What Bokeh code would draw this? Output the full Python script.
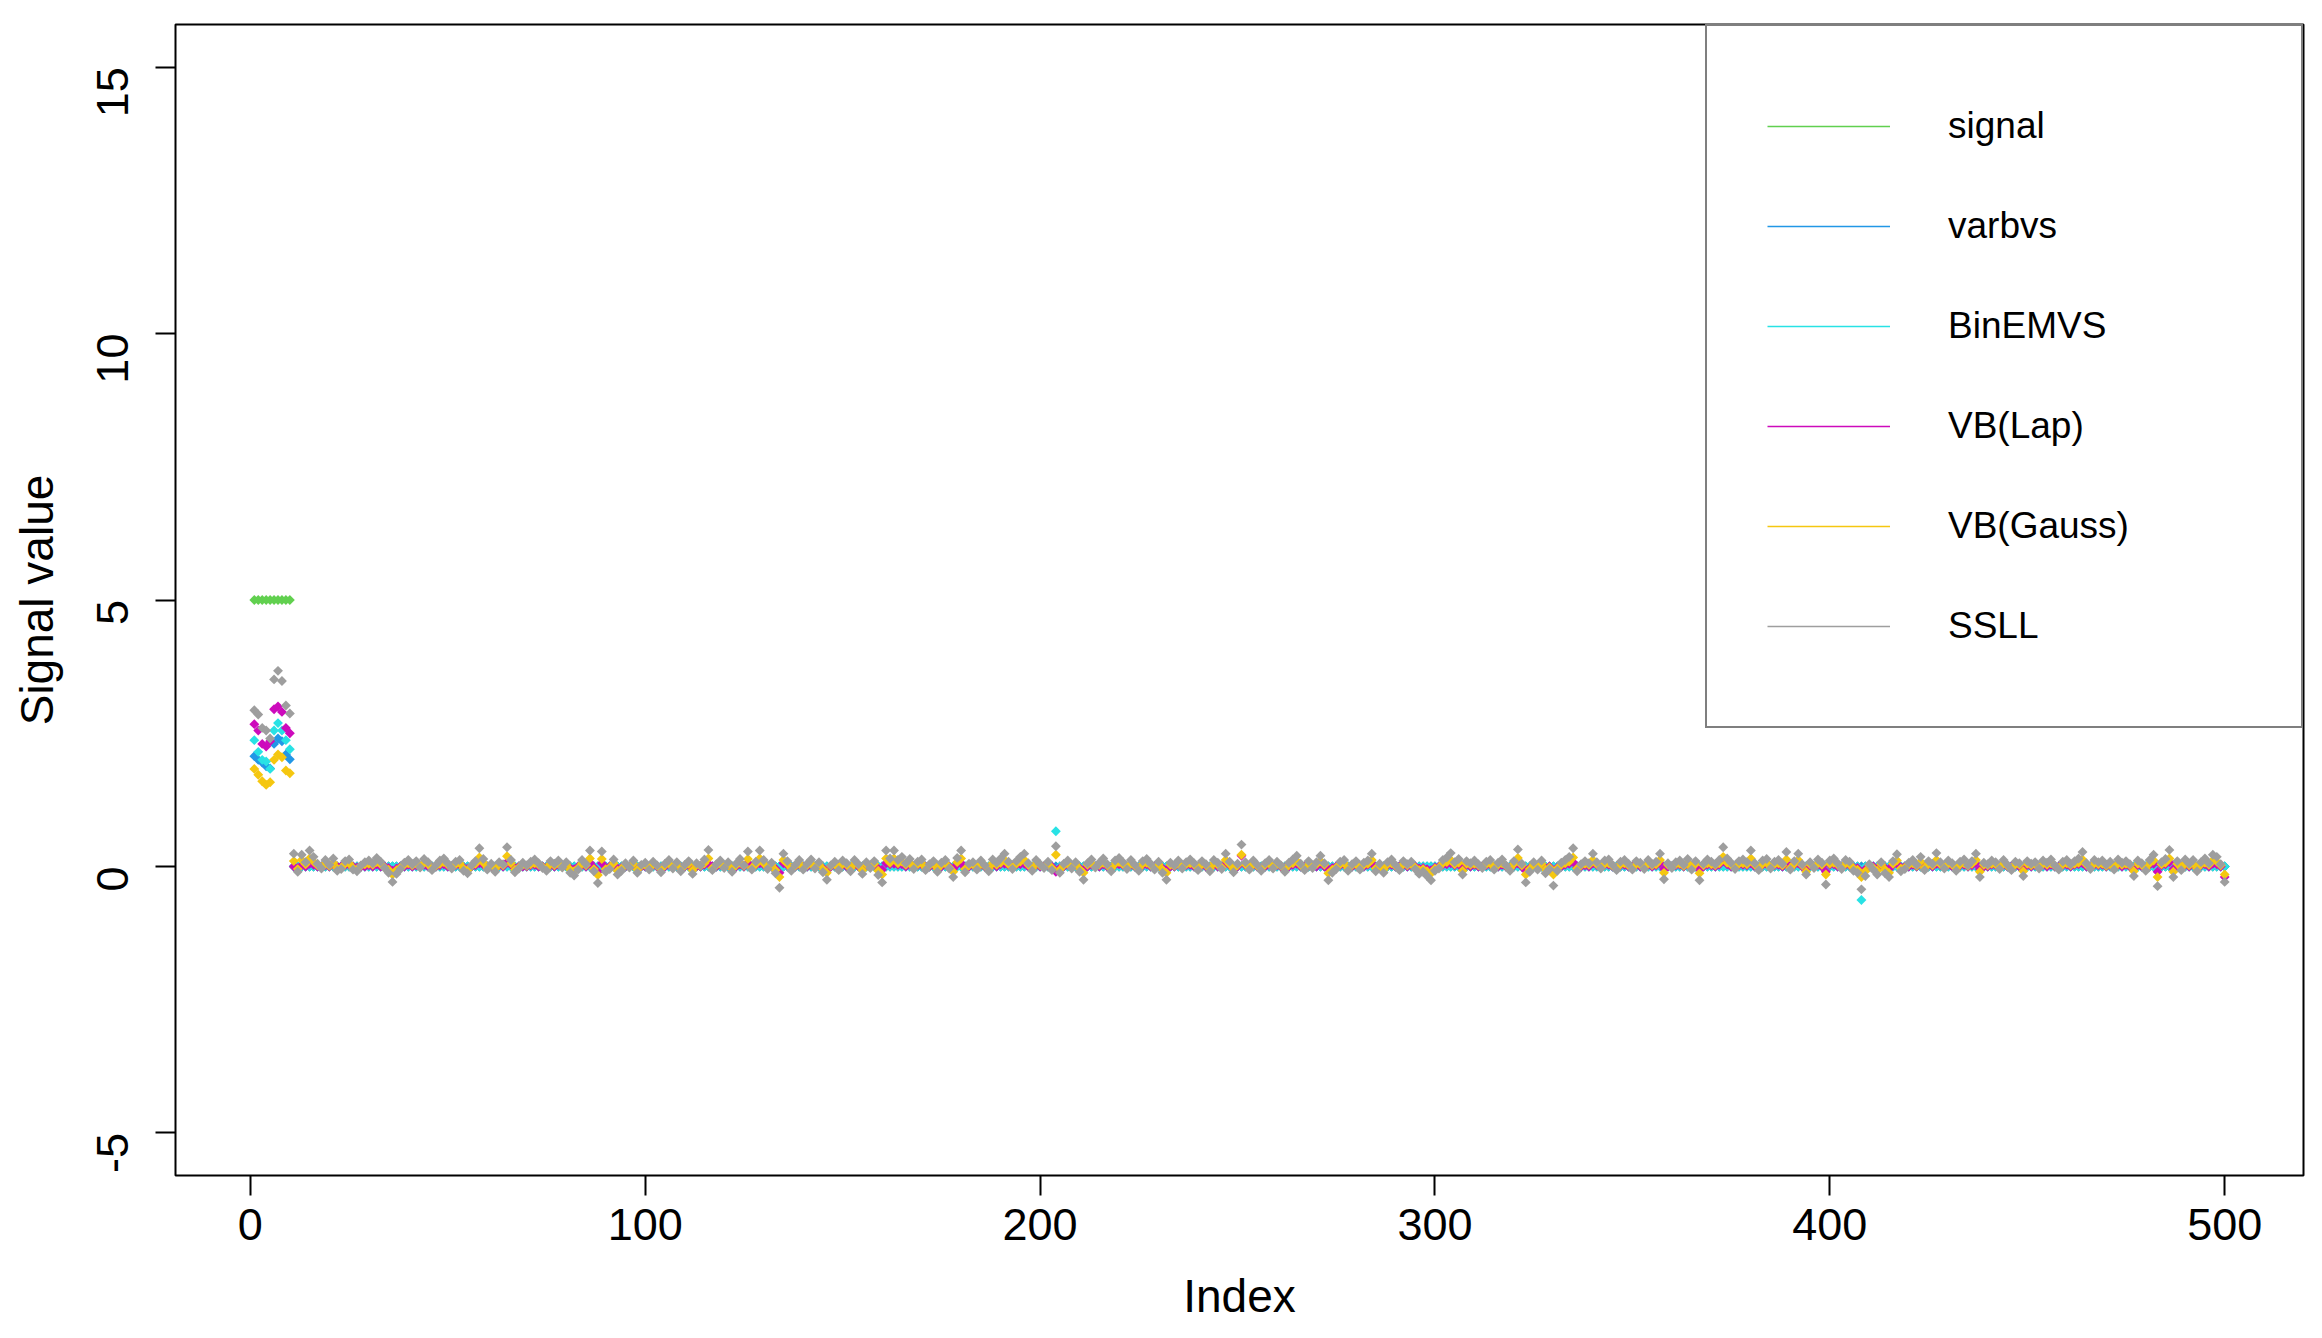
import math
from bokeh.plotting import figure
from bokeh.models import Range1d, FixedTicker, Legend, LegendItem, PrintfTickFormatter
from bokeh.embed import file_html
from bokeh.resources import INLINE

# Index 1..500 (first 10 are the true signals)
index = list(range(1, 501))

signal = [
    5, 5, 5, 5, 5, 5, 5, 5, 5, 5,
    0, 0, 0, 0, 0, 0, 0, 0, 0, 0, 0, 0, 0, 0, 0, 0, 0, 0, 0, 0,
    0, 0, 0, 0, 0, 0, 0, 0, 0, 0, 0, 0, 0, 0, 0, 0, 0, 0, 0, 0,
    0, 0, 0, 0, 0, 0, 0, 0, 0, 0, 0, 0, 0, 0, 0, 0, 0, 0, 0, 0,
    0, 0, 0, 0, 0, 0, 0, 0, 0, 0, 0, 0, 0, 0, 0, 0, 0, 0, 0, 0,
    0, 0, 0, 0, 0, 0, 0, 0, 0, 0, 0, 0, 0, 0, 0, 0, 0, 0, 0, 0,
    0, 0, 0, 0, 0, 0, 0, 0, 0, 0, 0, 0, 0, 0, 0, 0, 0, 0, 0, 0,
    0, 0, 0, 0, 0, 0, 0, 0, 0, 0, 0, 0, 0, 0, 0, 0, 0, 0, 0, 0,
    0, 0, 0, 0, 0, 0, 0, 0, 0, 0, 0, 0, 0, 0, 0, 0, 0, 0, 0, 0,
    0, 0, 0, 0, 0, 0, 0, 0, 0, 0, 0, 0, 0, 0, 0, 0, 0, 0, 0, 0,
    0, 0, 0, 0, 0, 0, 0, 0, 0, 0, 0, 0, 0, 0, 0, 0, 0, 0, 0, 0,
    0, 0, 0, 0, 0, 0, 0, 0, 0, 0, 0, 0, 0, 0, 0, 0, 0, 0, 0, 0,
    0, 0, 0, 0, 0, 0, 0, 0, 0, 0, 0, 0, 0, 0, 0, 0, 0, 0, 0, 0,
    0, 0, 0, 0, 0, 0, 0, 0, 0, 0, 0, 0, 0, 0, 0, 0, 0, 0, 0, 0,
    0, 0, 0, 0, 0, 0, 0, 0, 0, 0, 0, 0, 0, 0, 0, 0, 0, 0, 0, 0,
    0, 0, 0, 0, 0, 0, 0, 0, 0, 0, 0, 0, 0, 0, 0, 0, 0, 0, 0, 0,
    0, 0, 0, 0, 0, 0, 0, 0, 0, 0, 0, 0, 0, 0, 0, 0, 0, 0, 0, 0,
    0, 0, 0, 0, 0, 0, 0, 0, 0, 0, 0, 0, 0, 0, 0, 0, 0, 0, 0, 0,
    0, 0, 0, 0, 0, 0, 0, 0, 0, 0, 0, 0, 0, 0, 0, 0, 0, 0, 0, 0,
    0, 0, 0, 0, 0, 0, 0, 0, 0, 0, 0, 0, 0, 0, 0, 0, 0, 0, 0, 0,
    0, 0, 0, 0, 0, 0, 0, 0, 0, 0, 0, 0, 0, 0, 0, 0, 0, 0, 0, 0,
    0, 0, 0, 0, 0, 0, 0, 0, 0, 0, 0, 0, 0, 0, 0, 0, 0, 0, 0, 0,
    0, 0, 0, 0, 0, 0, 0, 0, 0, 0, 0, 0, 0, 0, 0, 0, 0, 0, 0, 0,
    0, 0, 0, 0, 0, 0, 0, 0, 0, 0, 0, 0, 0, 0, 0, 0, 0, 0, 0, 0,
    0, 0, 0, 0, 0, 0, 0, 0, 0, 0, 0, 0, 0, 0, 0, 0, 0, 0, 0, 0,
    0, 0, 0, 0, 0, 0, 0, 0, 0, 0,
]

varbvs = [
    2.07, 2.00, 1.95, 1.88, 1.84, 2.30, 2.40, 2.35, 2.10, 2.01,
    0, 0, 0, 0, 0, 0, 0, 0, 0, 0, 0, 0, 0, 0, 0, 0, 0, 0, 0, 0,
    0, 0, 0, 0, 0, 0, 0, 0, 0, 0, 0, 0, 0, 0, 0, 0, 0, 0, 0, 0,
    0, 0, 0, 0, 0, 0, 0, 0, 0, 0, 0, 0, 0, 0, 0, 0, 0, 0, 0, 0,
    0, 0, 0, 0, 0, 0, 0, 0, 0, 0, 0, 0, 0, 0, 0, 0, 0, 0, 0, 0,
    0, 0, 0, 0, 0, 0, 0, 0, 0, 0, 0, 0, 0, 0, 0, 0, 0, 0, 0, 0,
    0, 0, 0, 0, 0, 0, 0, 0, 0, 0, 0, 0, 0, 0, 0, 0, 0, 0, 0, 0,
    0, 0, 0, 0, 0, 0, 0, 0, 0, 0, 0, 0, 0, 0, 0, 0, 0, 0, 0, 0,
    0, 0, 0, 0, 0, 0, 0, 0, 0, 0, 0, 0, 0, 0, 0, 0, 0, 0, 0, 0,
    0, 0, 0, 0, 0, 0, 0, 0, 0, 0, 0, 0, 0, 0, 0, 0, 0, 0, 0, 0,
    0, 0, 0, 0, 0, 0, 0, 0, 0, 0, 0, 0, 0, 0, 0, 0, 0, 0, 0, 0,
    0, 0, 0, 0, 0, 0, 0, 0, 0, 0, 0, 0, 0, 0, 0, 0, 0, 0, 0, 0,
    0, 0, 0, 0, 0, 0, 0, 0, 0, 0, 0, 0, 0, 0, 0, 0, 0, 0, 0, 0,
    0, 0, 0, 0, 0, 0, 0, 0, 0, 0, 0, 0, 0, 0, 0, 0, 0, 0, 0, 0,
    0, 0, 0, 0, 0, 0, 0, 0, 0, 0, 0, 0, 0, 0, 0, 0, 0, 0, 0, 0,
    0, 0, 0, 0, 0, 0, 0, 0, 0, 0, 0, 0, 0, 0, 0, 0, 0, 0, 0, 0,
    0, 0, 0, 0, 0, 0, 0, 0, 0, 0, 0, 0, 0, 0, 0, 0, 0, 0, 0, 0,
    0, 0, 0, 0, 0, 0, 0, 0, 0, 0, 0, 0, 0, 0, 0, 0, 0, 0, 0, 0,
    0, 0, 0, 0, 0, 0, 0, 0, 0, 0, 0, 0, 0, 0, 0, 0, 0, 0, 0, 0,
    0, 0, 0, 0, 0, 0, 0, 0, 0, 0, 0, 0, 0, 0, 0, 0, 0, 0, 0, 0,
    0, 0, 0, 0, 0, 0, 0, 0, 0, 0, 0, 0, 0, 0, 0, 0, 0, 0, 0, 0,
    0, 0, 0, 0, 0, 0, 0, 0, 0, 0, 0, 0, 0, 0, 0, 0, 0, 0, 0, 0,
    0, 0, 0, 0, 0, 0, 0, 0, 0, 0, 0, 0, 0, 0, 0, 0, 0, 0, 0, 0,
    0, 0, 0, 0, 0, 0, 0, 0, 0, 0, 0, 0, 0, 0, 0, 0, 0, 0, 0, 0,
    0, 0, 0, 0, 0, 0, 0, 0, 0, 0, 0, 0, 0, 0, 0, 0, 0, 0, 0, 0,
    0, 0, 0, 0, 0, 0, 0, 0, 0, 0,
]

# rows of ten: 11-20, 21-30, ...
binemvs = [
    2.37, 2.15, 2.00, 1.97, 1.83, 2.55, 2.69, 2.55, 2.37, 2.20,
    0, 0, 0, 0, 0, 0, 0, 0, 0, 0,
    0, 0, 0, 0, 0, 0, 0, 0, 0, 0,
    0, 0, 0, 0, 0, 0, 0, 0, 0, 0,
    0, 0, 0, 0, 0, 0, 0, 0, 0, 0,
    0, 0, 0, 0, 0, 0, 0, 0, 0, 0,
    0, 0, 0, 0, 0, 0, 0, 0, 0, 0,
    0, 0, 0, 0, 0, 0, 0, 0, 0, 0,
    0, 0, 0, 0, 0, 0, 0, 0, 0, 0,
    0, 0, 0, 0, 0, 0, 0, 0, 0, 0,
    0, 0, 0, 0, 0, 0, 0, 0, 0, 0,
    0, 0, 0, 0, 0, 0, 0, 0, 0, 0,
    0, 0, 0, 0, 0, 0, 0, 0, 0, 0,
    0, 0, 0, 0, 0, 0, 0, 0, 0, 0,
    0, 0, 0, 0, 0, 0, 0, 0, 0, 0,
    0, 0, 0, 0, 0, 0, 0, 0, 0, 0,
    0, 0, 0, 0, 0, 0, 0, 0, 0, 0,
    0, 0, 0, 0, 0, 0, 0, 0, 0, 0,
    0, 0, 0, 0, 0, 0, 0, 0, 0, 0,
    0, 0, 0, 0, 0, 0, 0, 0, 0, 0,
    0, 0, 0, 0.66, 0, 0, 0, 0, 0, 0,
    0, 0, 0, 0, 0, 0, 0, 0, 0, 0,
    0, 0, 0, 0, 0, 0, 0, 0, 0, 0,
    0, 0, 0, 0, 0, 0, 0, 0, 0, 0,
    0, 0, 0, 0, 0, 0, 0, 0, 0, 0,
    0, 0, 0, 0, 0, 0, 0, 0, 0, 0,
    0, 0, 0, 0, 0, 0, 0, 0, 0, 0,
    0, 0, 0, 0, 0, 0, 0, 0, 0, 0,
    0, 0, 0, 0, 0, 0, 0, 0, 0, 0,
    0, 0, 0, 0, 0, 0, 0, 0, 0, 0,
    0, 0, 0, 0, 0, 0, 0, 0, 0, 0,
    0, 0, 0, 0, 0, 0, 0, 0, 0, 0,
    0, 0, 0, 0, 0, 0, 0, 0, 0, 0,
    0, 0, 0, 0, 0, 0, 0, 0, 0, 0,
    0, 0, 0, 0, 0, 0, 0, 0, 0, 0,
    0, 0, 0, 0, 0, 0, 0, 0, 0, 0,
    0, 0, 0, 0, 0, 0, 0, 0, 0, 0,
    0, 0, 0, 0, 0, 0, 0, 0, 0, 0,
    0, 0, 0, 0, 0, 0, 0, 0, 0, 0,
    0, 0, 0, 0, 0, 0, 0, 0, 0, 0,
    0, 0, 0, 0, 0, 0, 0, -0.63, 0, 0,
    0, 0, 0, 0, 0, 0, 0, 0, 0, 0,
    0, 0, 0, 0, 0, 0, 0, 0, 0, 0,
    0, 0, 0, 0, 0, 0, 0, 0, 0, 0,
    0, 0, 0, 0, 0, 0, 0, 0, 0, 0,
    0, 0, 0, 0, 0, 0, 0, 0, 0, 0,
    0, 0, 0, 0, 0, 0, 0, 0, 0, 0,
    0, 0, 0, 0, 0, 0, 0, 0, 0, 0,
    0, 0, 0, 0, 0, 0, 0, 0, 0, 0,
    0, 0, 0, 0, 0, 0, 0, 0, 0, 0,
]

vb_lap = [
    2.67, 2.55, 2.30, 2.25, 2.35, 2.95, 3.00, 2.90, 2.60, 2.50,
    0, -0.03, 0.02, 0, 0.05, 0.03, 0, 0, 0.02, 0,
    0.03, 0, 0, 0.02, 0.03, 0, -0.02, 0, 0, 0.02,
    0, 0.04, 0, 0, -0.03, -0.08, -0.04, 0, 0, 0.03,
    0, 0.02, 0, 0.03, 0, -0.02, 0, 0.02, 0.04, 0,
    0, 0.02, 0.03, -0.02, -0.04, 0, 0.02, 0.06, 0.03, 0,
    0, -0.03, 0.02, 0, 0.08, 0.03, -0.03, 0, 0, 0,
    0.02, 0.03, 0, 0, -0.02, 0.02, 0, 0.03, 0, 0.02,
    -0.03, -0.05, 0, 0.03, 0, 0.07, -0.02, -0.10, 0.06, -0.03,
    0, 0.03, -0.04, -0.02, 0, 0, 0.02, -0.03, 0, 0,
    0, 0.02, 0, -0.03, 0, 0.03, 0, 0.02, -0.02, 0,
    0.02, -0.04, 0, 0, 0.03, 0.05, 0, 0, 0.03, 0,
    0.02, -0.03, 0, 0.04, 0, 0.06, 0, 0.02, 0.06, 0.03,
    0, 0, -0.04, -0.12, 0.06, 0.02, -0.02, 0, 0.03, 0,
    0, 0.03, 0, 0.02, -0.03, -0.07, 0, 0.02, 0, 0.03,
    0, -0.02, 0.03, 0, -0.04, 0.02, 0, 0.03, -0.04, -0.06,
    0.06, 0.04, 0.05, 0.03, 0.04, 0, 0.03, 0, 0.02, 0.03,
    0, 0, 0.02, -0.03, 0, 0.03, 0, -0.05, 0.04, 0.06,
    -0.03, 0, 0.02, 0, 0.03, 0, -0.02, 0.03, 0, 0.04,
    0.05, 0.02, 0, 0.03, 0.04, 0.05, 0, -0.02, 0.03, 0,
    0, 0.02, 0, -0.10, -0.03, 0, 0.03, 0, 0.02, -0.03,
    -0.06, 0, 0.03, 0, 0, 0.04, 0, -0.02, 0.03, 0.04,
    0.02, 0, 0.03, 0, -0.02, 0.02, 0.04, 0, 0, 0.02,
    -0.03, -0.06, 0, 0, 0.03, 0, 0.02, 0.03, 0, 0,
    0.03, 0, -0.02, 0.03, 0, 0, 0.06, 0.02, -0.03, 0,
    0.20, 0.02, 0, 0.03, 0, -0.02, 0, 0.03, 0, 0.02,
    0, -0.03, 0, 0.03, 0.05, 0, 0, 0.02, 0, 0,
    0.05, 0, -0.05, -0.03, 0, 0.02, 0.03, -0.02, 0, 0.03,
    0, 0, 0.03, 0.06, -0.02, 0, -0.03, 0.02, 0.03, 0,
    0, 0.03, 0, 0.02, 0, -0.04, -0.03, -0.05, -0.07, -0.02,
    0, 0.03, 0.04, 0.06, 0.02, 0.04, -0.04, 0.03, 0, 0.03,
    0, 0, 0.02, 0.03, 0, 0, 0.03, 0, -0.02, 0.02,
    0.06, 0, -0.08, -0.03, 0.02, 0, 0.03, -0.03, 0, -0.10,
    -0.02, 0, 0.03, 0.05, 0.08, -0.02, 0, 0.02, 0, 0.06,
    0.02, 0, 0.03, 0.03, 0, -0.02, 0.02, 0.03, 0, 0,
    0.03, 0, 0, 0.03, 0, 0.02, 0.06, -0.05, 0, 0,
    0.02, 0.03, 0, 0.04, 0, 0.03, -0.06, 0, 0.03, 0.02,
    0, 0.03, 0.10, 0.04, 0, 0, 0.03, 0.03, 0.02, 0.06,
    0, -0.02, 0.03, 0.04, 0, 0.02, 0.03, 0, 0.06, 0,
    0.03, 0.06, 0, -0.04, 0.02, 0, 0.03, 0, -0.10, 0.03,
    0.04, 0, 0, 0.03, 0.02, -0.02, -0.03, -0.12, -0.05, 0,
    0, -0.04, 0.02, -0.03, -0.05, 0.03, 0.05, -0.02, 0, 0,
    0.03, 0, 0.04, 0, 0.03, 0, 0.05, 0.02, 0, 0.03,
    0, -0.02, 0.02, 0.03, 0, 0.02, 0.06, -0.05, 0, 0,
    0.03, 0.02, 0, 0.03, 0, 0, 0.02, 0, -0.04, 0.03,
    0, 0.02, 0, 0.03, 0, 0.03, 0, 0, 0.02, 0.03,
    0, 0.03, 0.04, 0.06, 0, 0, 0.03, 0.02, 0.03, 0,
    0.02, 0, 0.03, 0, 0.03, 0, -0.04, 0.03, 0, -0.02,
    0.03, 0.05, -0.10, 0.02, 0.04, 0.08, -0.05, 0.03, 0, 0.03,
    0, 0.03, -0.02, 0.02, 0.04, 0, 0.05, 0.04, 0, -0.20,
]

vb_gauss = [
    1.83, 1.72, 1.60, 1.53, 1.58, 2.00, 2.10, 2.05, 1.80, 1.75,
    0.10, -0.05, 0.12, 0.04, 0.15, 0.09, 0.02, -0.02, 0.06, 0.01,
    0.07, -0.04, -0.03, 0.05, 0.06, -0.03, -0.05, 0.01, 0.04, 0.05,
    0.03, 0.08, 0.04, -0.02, -0.06, -0.15, -0.07, -0.02, 0.03, 0.06,
    0.02, 0.05, -0.01, 0.07, 0.04, -0.04, 0.01, 0.05, 0.08, 0.03,
    -0.02, 0.04, 0.06, -0.04, -0.07, 0.01, 0.05, 0.17, 0.07, -0.03,
    0.02, -0.05, 0.04, 0.02, 0.19, 0.06, -0.06, -0.02, 0.03, 0.01,
    0.04, 0.06, 0.03, -0.01, -0.04, 0.05, 0.02, 0.05, -0.01, 0.04,
    -0.06, -0.09, -0.03, 0.06, 0.02, 0.15, -0.05, -0.16, 0.14, -0.05,
    -0.02, 0.06, -0.08, -0.04, 0.03, -0.01, 0.05, -0.06, 0.01, 0.03,
    -0.03, 0.04, 0.01, -0.05, 0.02, 0.06, -0.02, 0.04, -0.04, 0.01,
    0.05, -0.07, 0.03, 0.01, 0.06, 0.15, -0.03, 0.02, 0.05, -0.01,
    0.04, -0.05, 0.02, 0.07, 0.01, 0.14, -0.03, 0.04, 0.15, 0.06,
    -0.02, 0.03, -0.07, -0.20, 0.12, 0.05, -0.04, 0.01, 0.06, -0.03,
    0.02, 0.06, -0.02, 0.04, -0.05, -0.12, 0.01, 0.04, -0.03, 0.05,
    0.03, -0.04, 0.06, 0.02, -0.07, 0.04, -0.01, 0.05, -0.08, -0.15,
    0.15, 0.07, 0.15, 0.06, 0.09, 0.03, 0.07, -0.02, 0.04, 0.06,
    -0.03, 0.02, 0.05, -0.05, 0.03, 0.06, -0.02, -0.10, 0.08, 0.15,
    -0.05, 0.02, 0.04, -0.03, 0.05, 0.01, -0.04, 0.06, 0.03, 0.07,
    0.12, 0.04, -0.02, 0.05, 0.09, 0.12, 0.03, -0.04, 0.06, 0.02,
    -0.01, 0.04, -0.03, 0.22, -0.06, 0.02, 0.05, -0.02, 0.04, -0.05,
    -0.12, 0.03, 0.06, -0.01, 0.03, 0.07, 0.02, -0.04, 0.05, 0.08,
    0.04, -0.02, 0.06, 0.01, -0.04, 0.05, 0.07, 0.02, -0.03, 0.04,
    -0.06, -0.12, 0.03, 0.01, 0.05, -0.02, 0.04, 0.06, 0.03, -0.03,
    0.05, 0.02, -0.04, 0.06, 0.03, -0.02, 0.12, 0.04, -0.05, 0.02,
    0.22, 0.04, -0.03, 0.05, 0.01, -0.04, 0.03, 0.06, -0.02, 0.04,
    0.01, -0.05, 0.03, 0.06, 0.10, 0.02, -0.03, 0.05, -0.01, 0.04,
    0.10, 0.03, -0.13, -0.06, -0.02, 0.04, 0.06, -0.04, 0.02, 0.05,
    -0.03, 0.03, 0.05, 0.12, -0.04, 0.02, -0.06, 0.04, 0.06, 0.01,
    -0.03, 0.05, 0.02, 0.04, -0.02, -0.07, -0.05, -0.09, -0.13, -0.04,
    -0.02, 0.06, 0.08, 0.12, 0.04, 0.07, -0.08, 0.05, 0.03, 0.05,
    0.02, -0.01, 0.04, 0.06, -0.03, 0.03, 0.06, 0.01, -0.04, 0.05,
    0.16, 0.02, -0.15, -0.05, 0.04, -0.03, 0.05, -0.06, -0.02, -0.15,
    -0.04, 0.03, 0.06, 0.09, 0.17, -0.04, 0.02, 0.05, 0.03, 0.12,
    0.04, -0.02, 0.05, 0.06, 0.01, -0.03, 0.04, 0.06, 0.02, -0.03,
    0.05, 0.03, -0.02, 0.06, 0.02, 0.04, 0.12, -0.12, 0.03, -0.01,
    0.04, 0.05, 0.01, 0.07, -0.03, 0.05, -0.13, 0.02, 0.06, 0.04,
    0.02, 0.06, 0.18, 0.07, 0.03, -0.02, 0.05, 0.06, 0.04, 0.15,
    0.03, -0.03, 0.05, 0.07, -0.02, 0.04, 0.06, 0.02, 0.13, -0.03,
    0.05, 0.12, 0.02, -0.10, 0.04, -0.01, 0.06, 0.03, -0.15, 0.05,
    0.07, 0.03, -0.02, 0.06, 0.04, -0.04, -0.06, -0.20, -0.09, 0.02,
    -0.03, -0.08, 0.04, -0.06, -0.12, 0.05, 0.11, -0.04, -0.02, 0.03,
    0.06, 0.01, 0.09, -0.03, 0.05, 0.02, 0.12, 0.04, -0.02, 0.05,
    0.03, -0.04, 0.04, 0.06, 0.01, 0.05, 0.12, -0.10, 0.03, 0.02,
    0.05, 0.04, -0.02, 0.06, 0.01, -0.03, 0.04, 0.03, -0.09, 0.05,
    0.02, 0.04, -0.02, 0.05, 0.03, 0.06, 0.01, -0.03, 0.04, 0.06,
    0.02, 0.05, 0.07, 0.13, 0.03, -0.02, 0.06, 0.04, 0.05, 0.01,
    0.04, -0.03, 0.06, 0.03, 0.05, 0.02, -0.09, 0.05, 0.03, -0.04,
    0.06, 0.11, -0.20, 0.04, 0.07, 0.15, -0.10, 0.05, -0.03, 0.06,
    0.02, 0.06, -0.04, 0.04, 0.07, 0.03, 0.11, 0.09, 0.02, -0.15,
]

ssll = [
    2.93, 2.85, 2.60, 2.55, 2.40, 3.51, 3.67, 3.48, 3.02, 2.87,
    0.24, -0.10, 0.22, 0.08, 0.30, 0.18, 0.05, -0.04, 0.12, 0.03,
    0.15, -0.08, -0.05, 0.10, 0.13, -0.06, -0.09, 0.02, 0.08, 0.11,
    0.06, 0.16, 0.09, -0.03, -0.12, -0.29, -0.14, -0.05, 0.07, 0.12,
    0.04, 0.10, -0.02, 0.14, 0.08, -0.07, 0.03, 0.11, 0.15, 0.06,
    -0.04, 0.09, 0.12, -0.08, -0.13, 0.02, 0.10, 0.34, 0.14, -0.06,
    0.05, -0.10, 0.08, 0.04, 0.36, 0.12, -0.11, -0.04, 0.07, 0.02,
    0.09, 0.13, 0.06, -0.03, -0.08, 0.10, 0.05, 0.11, -0.02, 0.08,
    -0.12, -0.17, -0.06, 0.12, 0.04, 0.30, -0.09, -0.31, 0.28, -0.10,
    -0.05, 0.13, -0.15, -0.08, 0.06, -0.02, 0.11, -0.12, 0.03, 0.07,
    -0.06, 0.09, 0.02, -0.11, 0.05, 0.12, -0.04, 0.08, -0.09, 0.03,
    0.10, -0.14, 0.06, 0.02, 0.13, 0.31, -0.07, 0.04, 0.11, -0.03,
    0.08, -0.10, 0.05, 0.14, 0.02, 0.28, -0.06, 0.09, 0.30, 0.12,
    -0.05, 0.07, -0.13, -0.40, 0.24, 0.10, -0.08, 0.03, 0.12, -0.06,
    0.05, 0.13, -0.04, 0.08, -0.11, -0.25, 0.02, 0.09, -0.07, 0.11,
    0.06, -0.09, 0.12, 0.04, -0.14, 0.08, -0.03, 0.10, -0.16, -0.30,
    0.30, 0.15, 0.30, 0.12, 0.18, 0.06, 0.14, -0.05, 0.09, 0.13,
    -0.07, 0.04, 0.10, -0.10, 0.07, 0.12, -0.04, -0.20, 0.16, 0.30,
    -0.11, 0.05, 0.08, -0.06, 0.11, 0.02, -0.09, 0.13, 0.07, 0.15,
    0.24, 0.09, -0.05, 0.10, 0.18, 0.24, 0.06, -0.08, 0.12, 0.04,
    -0.03, 0.09, -0.07, 0.38, -0.12, 0.05, 0.11, -0.04, 0.08, -0.10,
    -0.25, 0.06, 0.13, -0.02, 0.07, 0.15, 0.04, -0.09, 0.11, 0.16,
    0.08, -0.05, 0.12, 0.03, -0.08, 0.10, 0.14, 0.05, -0.06, 0.09,
    -0.12, -0.25, 0.07, 0.02, 0.11, -0.04, 0.08, 0.13, 0.06, -0.07,
    0.10, 0.04, -0.09, 0.12, 0.07, -0.05, 0.24, 0.09, -0.11, 0.05,
    0.41, 0.08, -0.06, 0.11, 0.03, -0.08, 0.06, 0.12, -0.04, 0.09,
    0.02, -0.10, 0.07, 0.13, 0.20, 0.05, -0.07, 0.10, -0.03, 0.08,
    0.20, 0.06, -0.26, -0.12, -0.05, 0.09, 0.12, -0.08, 0.04, 0.10,
    -0.06, 0.07, 0.11, 0.24, -0.09, 0.05, -0.12, 0.08, 0.13, 0.03,
    -0.07, 0.10, 0.04, 0.09, -0.05, -0.14, -0.10, -0.18, -0.26, -0.08,
    -0.04, 0.12, 0.17, 0.25, 0.08, 0.14, -0.15, 0.10, 0.06, 0.11,
    0.04, -0.03, 0.09, 0.12, -0.06, 0.07, 0.13, 0.02, -0.08, 0.10,
    0.32, 0.05, -0.30, -0.10, 0.08, -0.06, 0.11, -0.13, -0.05, -0.36,
    -0.08, 0.07, 0.12, 0.18, 0.34, -0.09, 0.04, 0.10, 0.06, 0.24,
    0.08, -0.04, 0.11, 0.13, 0.03, -0.07, 0.09, 0.12, 0.05, -0.06,
    0.10, 0.07, -0.05, 0.12, 0.04, 0.09, 0.24, -0.24, 0.06, -0.03,
    0.08, 0.11, 0.03, 0.14, -0.06, 0.10, -0.26, 0.05, 0.13, 0.09,
    0.04, 0.12, 0.36, 0.15, 0.07, -0.05, 0.10, 0.13, 0.08, 0.30,
    0.06, -0.07, 0.11, 0.14, -0.04, 0.09, 0.12, 0.05, 0.27, -0.06,
    0.10, 0.24, 0.04, -0.15, 0.08, -0.03, 0.13, 0.07, -0.34, 0.11,
    0.15, 0.06, -0.05, 0.12, 0.09, -0.08, -0.12, -0.43, -0.18, 0.04,
    -0.06, -0.15, 0.08, -0.13, -0.20, 0.10, 0.23, -0.09, -0.05, 0.07,
    0.12, 0.03, 0.18, -0.07, 0.10, 0.05, 0.25, 0.08, -0.04, 0.11,
    0.06, -0.08, 0.09, 0.13, 0.02, 0.10, 0.24, -0.20, 0.07, 0.04,
    0.11, 0.08, -0.05, 0.12, 0.03, -0.07, 0.09, 0.06, -0.18, 0.10,
    0.05, 0.08, -0.04, 0.11, 0.07, 0.13, 0.02, -0.06, 0.09, 0.12,
    0.04, 0.10, 0.15, 0.27, 0.06, -0.05, 0.12, 0.08, 0.11, 0.03,
    0.09, -0.06, 0.13, 0.07, 0.10, 0.04, -0.18, 0.11, 0.06, -0.08,
    0.12, 0.22, -0.37, 0.08, 0.14, 0.31, -0.20, 0.10, -0.07, 0.13,
    0.05, 0.12, -0.09, 0.08, 0.15, 0.06, 0.22, 0.18, 0.04, -0.29,
]

names = ["signal", "varbvs", "BinEMVS", "VB(Lap)", "VB(Gauss)", "SSLL"]
series = [signal, varbvs, binemvs, vb_lap, vb_gauss, ssll]
colors = ["#61D04F", "#2297E6", "#28E2E5", "#CD0BBC", "#F5C710", "#9E9E9E"]

x_ticks = [0, 100, 200, 300, 400, 500]
y_ticks = [-5, 0, 5, 10, 15]

FONT = "Liberation Sans"

p = figure(width=2314, height=1338, output_backend="svg", toolbar_location=None,
           x_range=Range1d(-18.96, 519.96), y_range=Range1d(-5.8, 15.8),
           min_border_left=175, min_border_right=11, min_border_top=24,
           min_border_bottom=163)
p.xgrid.visible = False
p.ygrid.visible = False
p.outline_line_color = "black"
p.outline_line_width = 2
p.background_fill_color = "white"

for ax in (p.xaxis[0], p.yaxis[0]):
    ax.axis_line_color = None
    ax.major_tick_out = 20
    ax.major_tick_in = 0
    ax.major_tick_line_width = 2
    ax.major_tick_line_color = "black"
    ax.minor_tick_line_color = None
    ax.major_label_text_font = FONT
    ax.major_label_text_font_size = "45px"
    ax.major_label_text_color = "black"
    ax.axis_label_text_font = FONT
    ax.axis_label_text_font_size = "46px"
    ax.axis_label_text_font_style = "normal"
    ax.axis_label_text_color = "black"
    ax.formatter = PrintfTickFormatter(format="%d")

p.xaxis.ticker = FixedTicker(ticks=x_ticks)
p.yaxis.ticker = FixedTicker(ticks=y_ticks)
p.xaxis.axis_label = "Index"
p.yaxis.axis_label = "Signal value"
p.xaxis.major_label_standoff = 13
p.xaxis.axis_label_standoff = 27
p.yaxis.major_label_orientation = math.pi / 2
p.yaxis.major_label_standoff = 43
p.yaxis.axis_label_standoff = 16

# points (pch 18 style diamonds)
for vals, col in zip(series, colors):
    p.scatter(x=index, y=vals, marker="square", angle=math.pi / 4, size=7,
              fill_color=col, line_color=None)

# legend shows plain lines; a one-point line draws nothing in the plot
items = []
for name, vals, col in zip(names, series, colors):
    r = p.line(x=index[:1], y=vals[:1], line_color=col, line_width=1.5)
    items.append(LegendItem(label=name, renderers=[r]))

legend = Legend(items=items, location="top_right", margin=0, padding=60,
                glyph_width=123, glyph_height=80, label_height=80,
                label_width=293, label_standoff=58, spacing=20,
                border_line_color="black", border_line_width=2,
                background_fill_color="white", background_fill_alpha=1,
                label_text_font=FONT, label_text_font_size="37px",
                label_text_color="black")
p.add_layout(legend)

open("out.html", "w").write(file_html(p, INLINE))
